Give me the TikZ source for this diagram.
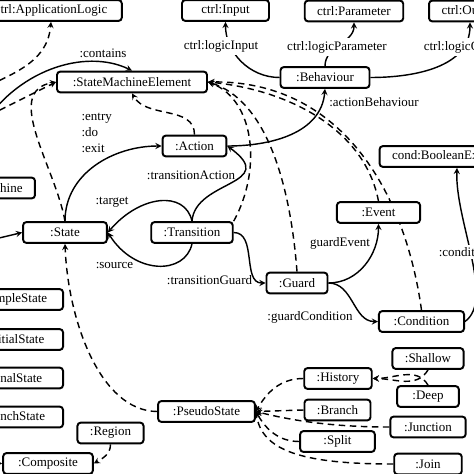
\documentclass[tikz,border=0pt]{standalone}
\usepackage{fontspec}
\setmainfont{Liberation Serif}
\pgfdeclarelayer{background}
\pgfsetlayers{background,main}
\tikzset{
	cls/.style={draw, rectangle, rounded corners=2.5pt, fill=white, line width=1.5pt, inner xsep=9.6pt, inner ysep=0pt, minimum height=16pt},
	lbl/.style={inner sep=1pt},
	onlbl/.style={fill=white, inner sep=2pt},
	assoc/.style={->, >=stealth, line width=1.1pt},
	gen/.style={assoc, dash pattern=on 5pt off 3.5pt},
}
\begin{document}
\begin{tikzpicture}[x=0.77pt, y=-0.77pt]
	\useasboundingbox (0,0) rectangle (474,474);
	\clip (0,0) rectangle (474,474);
	% controller side
	\node[cls, minimum width=109pt] (appl)at(51, 10.5) {ctrl:ApplicationLogic};
	\node[cls, minimum width=67pt] (inp)at(225.5, 10.5) {ctrl:Input};
	\node[cls] (par)at(354, 11) {ctrl:Parameter};
	\node[cls, minimum width=63pt] (outp)at(470, 11) {ctrl:Output};
	\node[cls, minimum width=68.5pt] (beh)at(325, 77.5) {:Behaviour};
	% state machine
	\node[cls, minimum width=115.5pt] (sme)at(132, 82) {:StateMachineElement};
	\node[cls] (act)at(194.5, 146) {:Action};
	\node[cls, minimum width=64.5pt] (st)at(65, 232.5) {:State};
	\node[cls] (trn)at(192, 232.5) {:Transition};
	\node[cls] (grd)at(297, 283) {:Guard};
	\node[cls, minimum width=64pt] (evt)at(378.5, 212.5) {:Event};
	\node[cls, minimum width=65.5pt] (cnd)at(421.5, 321.5) {:Condition};
	\node[cls] (bool)at(457, 156.5) {cond:BooleanExpression};
	% states
	\node[cls] (sm)at(-15, 188) {:StateMachine};
	\node[cls, minimum width=75.5pt] (smp)at(14, 299.5) {:SimpleState};
	\node[cls, minimum width=75.5pt] (ini)at(14, 339.5) {:InitialState};
	\node[cls, minimum width=75.5pt] (fin)at(14, 378) {:FinalState};
	\node[cls, minimum width=75.5pt] (syn)at(14, 417) {:SynchState};
	\node[cls] (reg)at(110.5, 433) {:Region};
	\node[cls, minimum width=69pt] (comp)at(48, 463.5) {:Composite};
	% pseudo states
	\node[cls, minimum width=74.5pt] (ps)at(206.5, 411.5) {:PseudoState};
	\node[cls] (hist)at(338, 378.5) {:History};
	\node[cls] (shl)at(428, 358.5) {:Shallow};
	\node[cls, minimum width=47.5pt] (dp)at(428, 396.5) {:Deep};
	\node[cls] (brn)at(337.5, 410) {:Branch};
	\node[cls, minimum width=58pt] (jnc)at(428, 427) {:Junction};
	\node[cls, minimum width=57.5pt] (spl)at(337.5, 441.5) {:Split};
	\node[cls, minimum width=52pt] (jn)at(428, 464) {:Join};
	% ends outside the picture
	\coordinate (offA)at(-40, 100);
	\coordinate (offB)at(-20, 130);
	\coordinate (offC)at(-30, 125);
	\coordinate (offD)at(-30, 245);
	\coordinate (offE)at(-30, 463);
	% labels
	\node[lbl] (lcont)at(103, 53) {:contains};
	\node[lbl, align=left, anchor=west] (lentry)at(80, 133) {:entry\\:do\\:exit};
	\node[lbl] (ltgt)at(112, 202) {:target};
	\node[lbl] (lsrc)at(114.5, 266) {:source};
	\node[lbl] (ltact)at(191, 175) {:transitionAction};
	\node[lbl] (ltgrd)at(209.5, 280) {:transitionGuard};
	\node[lbl] (labeh)at(374, 102) {:actionBehaviour};
	\node[lbl] (lgev)at(340, 243) {guardEvent};
	\node[lbl] (lgcond)at(310, 317) {:guardCondition};
	\node[onlbl, anchor=west] (lcond)at(436, 252) {:condition};
	\node[onlbl] (linp)at(221, 46) {ctrl:logicInput};
	\node[onlbl] (lpar)at(337, 47) {ctrl:logicParameter};
	\node[onlbl, anchor=west] (lout)at(421, 47) {ctrl:logicOutput};
	\begin{pgfonlayer}{background}
		\clip (0,0) rectangle (474,474);
		% associations
		\draw[assoc] (offB) .. controls (15,70) and (85,48) .. (sme.north);
		\draw[assoc] (offD) -- (st.west);
		\draw[assoc] (offE) -- (comp.west);
		\draw[assoc] (st.north) to[out=90, in=180] (act.west);
		\draw[assoc] (trn.north) .. controls (185,190) and (140,195) .. (st.east);
		\draw[assoc] (trn.south) .. controls (185,275) and (135,275) .. (st.east);
		\draw[assoc] (trn.north) .. controls (195,180) and (280,185) .. (act.east);
		\draw[assoc] (act.east) to[out=0, in=-95] (beh.south);
		\draw[assoc] (trn.east) to[out=0, in=180] (grd.west);
		\draw[assoc] (grd.east) to[out=0, in=-90] (evt.south);
		\draw[assoc] (grd.east) to[out=0, in=180] (cnd.west);
		\draw[assoc] (cnd.east) .. controls (495,300) and (455,220) .. (bool.south);
		\draw[assoc] (beh.west) to[out=180, in=-90] (inp.south);
		\draw[assoc] (beh.north) to[out=90, in=-90] (par.south);
		\draw[assoc] (beh.east) to[out=0, in=-90] (outp.south);
		% generalisations
		\draw[gen] (offA) to[out=30, in=-95] (appl.south);
		\draw[gen] (offC) -- (sme.west);
		\draw[gen] (st.north) to[out=100, in=190] (sme.west);
		\draw[gen] (act.north) to[out=90, in=-60] (sme.south);
		\draw[gen] (trn.north east) .. controls (262,170) and (255,100) .. (sme.east);
		\draw[gen] (grd.north) .. controls (290,180) and (265,100) .. (sme.east);
		\draw[gen] (evt.north) .. controls (365,130) and (290,90) .. (sme.east);
		\draw[gen] (cnd.north) .. controls (405,190) and (340,80) .. (sme.east);
		\draw[gen] (ps.west) .. controls (100,411) and (68,320) .. (st.south);
		\draw[gen] (reg.south) to[out=-90, in=30] (comp.east);
		\draw[gen] (hist.west) to[out=180, in=60] (ps.east);
		\draw[gen] (brn.west) -- (ps.east);
		\draw[gen] (jnc.west) .. controls (330,427) and (290,420) .. (ps.east);
		\draw[gen] (spl.west) to[out=180, in=-60] (ps.east);
		\draw[gen] (jn.west) .. controls (300,464) and (262,450) .. (ps.east);
		\draw[gen] (shl.south) to[out=-120, in=0] (hist.east);
		\draw[gen] (dp.north) to[out=120, in=0] (hist.east);
	\end{pgfonlayer}
\end{tikzpicture}
\end{document}
